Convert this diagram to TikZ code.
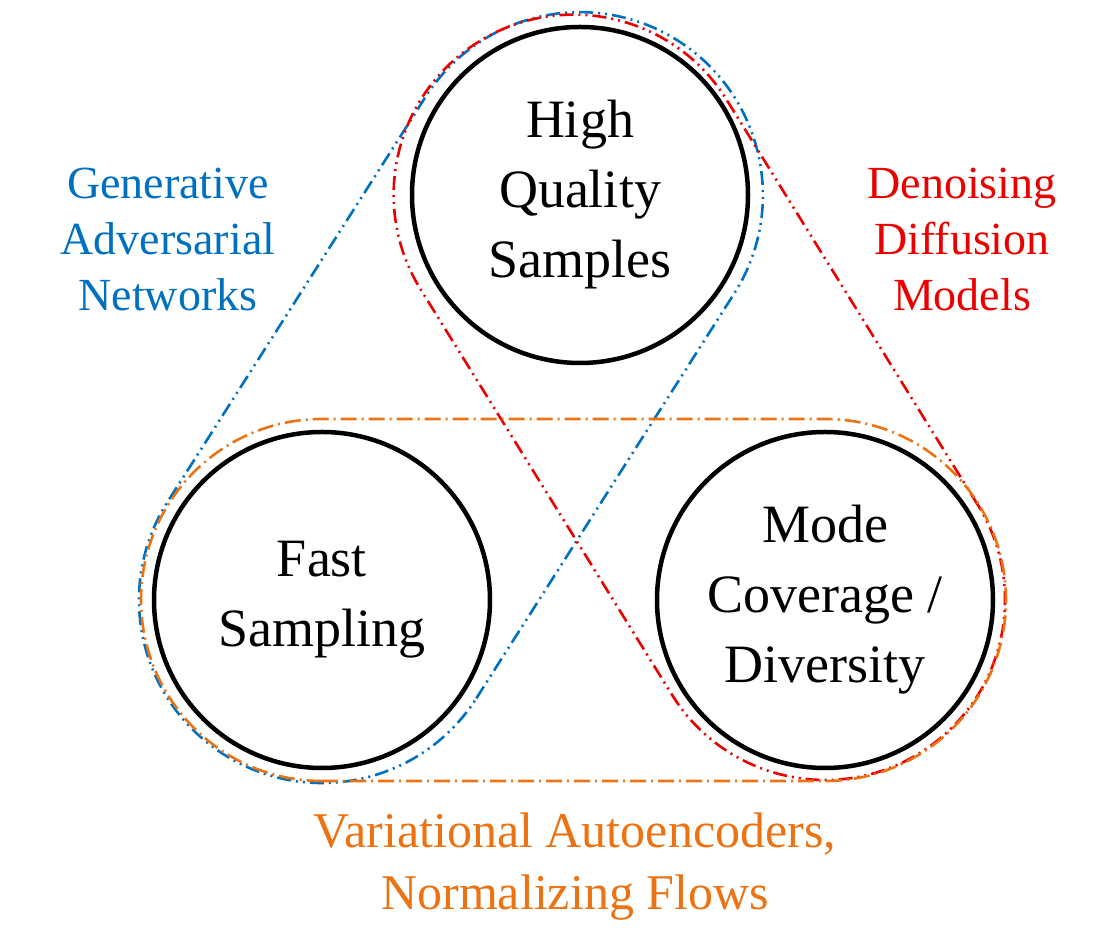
\documentclass[tikz,border=0pt]{standalone}
\usepackage{fontspec}
\setmainfont{Liberation Serif}
\begin{document}
\begin{tikzpicture}[x=1pt,y=1pt,
  circ/.style={circle,draw=black,line width=4.5pt,minimum size=336pt,inner sep=0pt,align=center,font=\fontsize{54}{70}\selectfont},
  lab/.style={align=center,font=\fontsize{46}{56}\selectfont},
  gan/.style={draw={rgb,255:red,0;green,112;blue,192},line width=2.6pt,dash pattern=on 14pt off 5pt on 2pt off 5pt on 2pt off 5pt},
  ddm/.style={draw={rgb,255:red,235;green,0;blue,0},line width=2.6pt,dash pattern=on 14pt off 5pt on 2pt off 5pt on 2pt off 5pt},
  vae/.style={draw={rgb,255:red,235;green,115;blue,20},line width=2.6pt,dash pattern=on 16pt off 5pt on 2pt off 5pt}]
\useasboundingbox (0,0) rectangle (1104,952);
% capsules
\begin{scope}[shift={(322,352)},rotate=57.5]
 \draw[gan] (0,-183) -- (480,-183) arc(-90:90:183) -- (0,183) arc(90:270:183) -- cycle;
\end{scope}
\begin{scope}[shift={(825,352)},rotate=121.8]
 \draw[ddm] (0,-180) -- (477,-180) arc(-90:90:180) -- (0,180) arc(90:270:180) -- cycle;
\end{scope}
\draw[vae] (322,171) -- (825,171) arc(-90:90:181) -- (322,533) arc(90:270:181) -- cycle;
\node[circ] (hq) at (580,757) {High\\Quality\\Samples};
\node[circ] (fs) at (322,352) {Fast\\Sampling};
\node[circ] (mc) at (825,352) {Mode\\Coverage /\\Diversity};
\node[lab,text={rgb,255:red,0;green,112;blue,192}] (g) at (168,712) {Generative\\Adversarial\\Networks};
\node[lab,text={rgb,255:red,235;green,0;blue,0}] (d) at (962,712) {Denoising\\Diffusion\\Models};
\node[lab,font=\fontsize{50}{62}\selectfont,text={rgb,255:red,235;green,115;blue,20}] (v) at (575,85) {Variational Autoencoders,\\Normalizing Flows};
\end{tikzpicture}
\end{document}
